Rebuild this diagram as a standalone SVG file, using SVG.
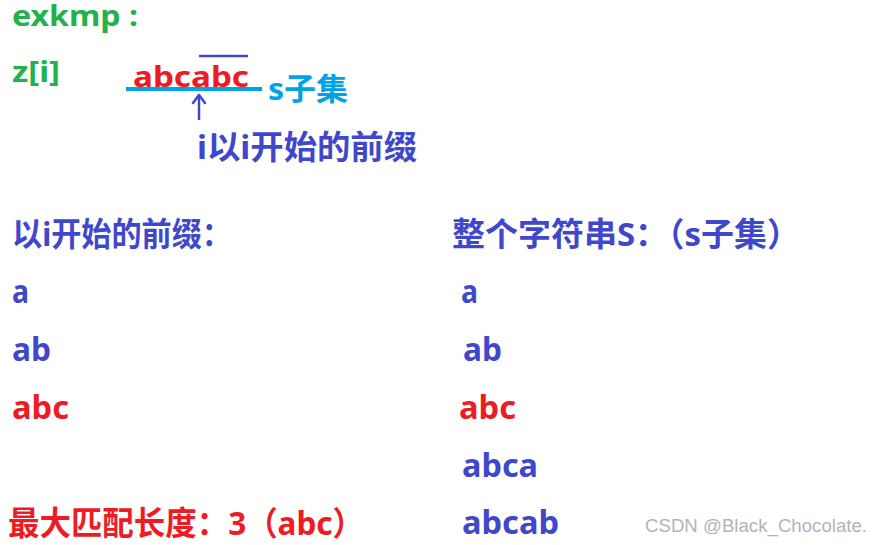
<svg xmlns="http://www.w3.org/2000/svg" width="882" height="545" viewBox="0 0 882 545">
<defs>
<style>
text{font-family:"Noto Sans","Noto Sans CJK SC",sans-serif;font-weight:bold;font-size:33px}
.s{font-size:29px}
.g{fill:#22b14c}.b{fill:#3f48cc}.r{fill:#ed1c24}.c{fill:#00a2e8}
.wm{fill:#b4b4b4;font-weight:normal;font-size:19px;font-family:"Liberation Sans",sans-serif}
</style>
</defs>
<rect width="882" height="545" fill="#fff"/>
<g id="title"><text class="g s" x="12" y="26" textLength="126" lengthAdjust="spacingAndGlyphs">exkmp :</text></g>
<g id="zi"><text class="g s" x="12" y="82" textLength="48" lengthAdjust="spacingAndGlyphs">z[i]</text></g>
<g id="string"><text class="r s" x="133" y="87" textLength="116" lengthAdjust="spacingAndGlyphs">abcabc</text></g>
<g id="connectors">
<line x1="199" y1="56" x2="248" y2="56" stroke="#3f48cc" stroke-width="2.5"/>
<line x1="126" y1="89" x2="262" y2="89" stroke="#00a2e8" stroke-width="4"/>
<path d="M199,120 L199,96" fill="none" stroke="#3f48cc" stroke-width="2.5"/>
<path d="M193,103 L199,95 L205,103" fill="none" stroke="#3f48cc" stroke-width="2.5" stroke-linecap="round" stroke-linejoin="round"/>
</g>
<g id="ssub"><text class="c" x="268" y="100" textLength="80" lengthAdjust="spacingAndGlyphs" style="font-size:31px">s子集</text></g>
<g id="prefix-label"><text class="b" x="197" y="159" textLength="220" lengthAdjust="spacingAndGlyphs">i以i开始的前缀</text></g>
<g id="left">
<text class="b" x="12" y="246" textLength="220" lengthAdjust="spacingAndGlyphs">以i开始的前缀：</text>
<text class="b" x="12" y="303" textLength="17" lengthAdjust="spacingAndGlyphs">a</text>
<text class="b" x="12" y="361" textLength="39" lengthAdjust="spacingAndGlyphs">ab</text>
<text class="r" x="12" y="419" textLength="57" lengthAdjust="spacingAndGlyphs">abc</text>
<text class="r" x="8" y="535" textLength="356" lengthAdjust="spacingAndGlyphs">最大匹配长度：3（abc）</text>
</g>
<g id="right">
<text class="b" x="452" y="246" textLength="348" lengthAdjust="spacingAndGlyphs">整个字符串S：（s子集）</text>
<text class="b" x="461" y="303" textLength="17" lengthAdjust="spacingAndGlyphs">a</text>
<text class="b" x="463" y="361" textLength="39" lengthAdjust="spacingAndGlyphs">ab</text>
<text class="r" x="459" y="419" textLength="57" lengthAdjust="spacingAndGlyphs">abc</text>
<text class="b" x="462" y="477" textLength="76" lengthAdjust="spacingAndGlyphs">abca</text>
<text class="b" x="462" y="534" textLength="97" lengthAdjust="spacingAndGlyphs">abcab</text>
</g>
<text class="wm" x="645" y="532" textLength="222" lengthAdjust="spacingAndGlyphs">CSDN @Black_Chocolate.</text>
</svg>
